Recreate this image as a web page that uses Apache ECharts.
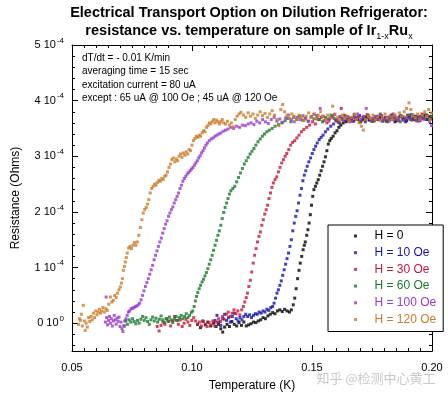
<!DOCTYPE html>
<html>
<head>
<meta charset="utf-8">
<script src="https://cdn.jsdelivr.net/npm/echarts@6/dist/echarts.min.js"></script>
<style>
  html, body { margin: 0; padding: 0; background: #fff; }
  #chart { width: 448px; height: 398px; }
</style>
</head>
<body>
<div id="chart"></div>
<script>
// temperature (K), resistance in units of 1e-4 Ohm
const h0 = [
  [0.1023,-0.02],[0.1035,-0.08],[0.1045,0.04],[0.1056,-0.03],[0.1066,0.02],[0.1078,-0.05],[0.1090,0.00],[0.1100,-0.06],
  [0.1110,-0.02],[0.1120,-0.10],[0.1128,-0.16],[0.1136,-0.07],[0.1146,-0.02],[0.1156,-0.06],[0.1166,0.03],[0.1176,-0.02],
  [0.1186,-0.05],[0.1196,0.01],[0.1206,-0.04],[0.1216,0.02],[0.1226,-0.05],[0.1236,-0.03],[0.1246,-0.01],[0.1256,0.02],
  [0.1266,0.01],[0.1276,0.04],[0.1286,0.06],[0.1296,0.10],[0.1306,0.08],[0.1316,0.13],[0.1326,0.16],[0.1336,0.19],
  [0.1346,0.17],[0.1356,0.22],[0.1366,0.24],[0.1376,0.21],[0.1386,0.25],[0.1396,0.22],[0.1406,0.20],[0.1414,0.24],
  [0.1422,0.33],[0.1428,0.45],[0.1434,0.62],[0.1440,0.80],[0.1446,0.95],[0.1451,1.08],[0.1457,1.20],[0.1463,1.32],
  [0.1468,1.40],[0.1472,1.46],[0.1478,1.58],[0.1483,1.68],[0.1488,1.80],[0.1493,1.95],[0.1498,2.12],[0.1503,2.28],
  [0.1508,2.40],[0.1514,2.46],[0.1520,2.52],[0.1526,2.58],[0.1532,2.66],[0.1538,2.74],[0.1544,2.82],[0.1550,2.90],
  [0.1556,2.99],[0.1562,3.10],[0.1568,3.22],[0.1574,3.28],[0.1580,3.32],[0.1588,3.36],[0.1596,3.42],[0.1604,3.46],
  [0.1612,3.52],[0.1620,3.56],[0.1630,3.60],[0.1642,3.62],[0.1654,3.66],[0.1666,3.64],[0.1678,3.70],[0.1690,3.66],
  [0.1702,3.62],[0.1714,3.68],[0.1726,3.71],[0.1738,3.65],[0.1750,3.63],[0.1762,3.69],[0.1774,3.66],[0.1786,3.72],
  [0.1798,3.67],[0.1810,3.64],[0.1822,3.70],[0.1834,3.66],[0.1846,3.62],[0.1858,3.69],[0.1870,3.73],[0.1882,3.66],
  [0.1894,3.64],[0.1906,3.70],[0.1918,3.67],[0.1930,3.72],[0.1942,3.65],[0.1954,3.69],[0.1966,3.74],[0.1978,3.66],
  [0.1990,3.71],[0.1998,3.68]
];
const h10 = [
  [0.1096,0.05],[0.1104,0.14],[0.1112,0.02],[0.1120,-0.04],[0.1128,0.08],[0.1136,0.16],[0.1144,0.05],[0.1152,0.10],
  [0.1160,0.02],[0.1168,0.12],[0.1176,0.18],[0.1184,0.08],[0.1192,0.04],[0.1200,0.10],[0.1208,0.06],[0.1216,0.12],
  [0.1224,0.16],[0.1232,0.12],[0.1240,0.15],[0.1248,0.10],[0.1256,0.14],[0.1264,0.17],[0.1272,0.16],[0.1280,0.20],
  [0.1288,0.18],[0.1296,0.22],[0.1304,0.20],[0.1312,0.25],[0.1320,0.23],[0.1328,0.28],[0.1336,0.30],[0.1342,0.36],
  [0.1348,0.45],[0.1354,0.54],[0.1360,0.60],[0.1366,0.68],[0.1372,0.76],[0.1378,0.86],[0.1384,0.96],[0.1390,1.06],
  [0.1396,1.16],[0.1402,1.26],[0.1408,1.38],[0.1414,1.50],[0.1420,1.66],[0.1426,1.80],[0.1432,1.92],[0.1438,2.02],
  [0.1444,2.16],[0.1450,2.30],[0.1456,2.42],[0.1462,2.56],[0.1468,2.66],[0.1474,2.74],[0.1480,2.82],[0.1487,2.90],
  [0.1494,2.97],[0.1501,3.05],[0.1508,3.12],[0.1515,3.18],[0.1522,3.24],[0.1530,3.30],[0.1538,3.34],[0.1546,3.38],
  [0.1556,3.44],[0.1566,3.49],[0.1578,3.54],[0.1590,3.58],[0.1602,3.64],[0.1614,3.60],[0.1626,3.68],[0.1638,3.65],
  [0.1650,3.71],[0.1662,3.67],[0.1674,3.63],[0.1686,3.69],[0.1698,3.73],[0.1710,3.66],[0.1722,3.62],[0.1734,3.70],
  [0.1746,3.67],[0.1758,3.64],[0.1770,3.72],[0.1782,3.68],[0.1794,3.63],[0.1806,3.70],[0.1818,3.66],[0.1830,3.74],
  [0.1842,3.69],[0.1854,3.64],[0.1866,3.71],[0.1878,3.67],[0.1890,3.62],[0.1902,3.70],[0.1914,3.75],[0.1926,3.66],
  [0.1938,3.71],[0.1950,3.64],[0.1962,3.69],[0.1974,3.73],[0.1986,3.66],[0.1996,3.71]
];
const h30 = [
  [0.0855,-0.06],[0.0863,-0.14],[0.0871,-0.04],[0.0879,0.02],[0.0887,-0.02],[0.0895,0.08],[0.0903,0.03],[0.0911,-0.05],
  [0.0919,0.04],[0.0927,0.12],[0.0935,0.05],[0.0943,-0.02],[0.0951,0.06],[0.0959,-0.06],[0.0967,0.00],[0.0975,0.07],
  [0.0983,0.02],[0.0991,-0.04],[0.0999,0.05],[0.1007,0.10],[0.1015,0.04],[0.1023,-0.02],[0.1031,0.02],[0.1039,-0.05],
  [0.1047,0.03],[0.1055,-0.02],[0.1063,-0.06],[0.1071,0.01],[0.1079,-0.03],[0.1087,0.04],[0.1095,-0.05],[0.1103,0.02],
  [0.1111,0.08],[0.1119,0.03],[0.1127,0.12],[0.1135,0.07],[0.1143,0.16],[0.1151,0.20],[0.1159,0.12],[0.1167,0.18],
  [0.1175,0.24],[0.1183,0.17],[0.1191,0.22],[0.1199,0.15],[0.1207,0.24],[0.1214,0.30],[0.1220,0.38],[0.1226,0.46],
  [0.1231,0.54],[0.1237,0.66],[0.1243,0.77],[0.1249,0.92],[0.1255,1.08],[0.1261,1.22],[0.1267,1.34],[0.1273,1.46],
  [0.1279,1.56],[0.1285,1.64],[0.1291,1.76],[0.1297,1.86],[0.1303,1.96],[0.1309,2.04],[0.1315,2.12],[0.1321,2.24],
  [0.1327,2.34],[0.1333,2.44],[0.1339,2.52],[0.1346,2.58],[0.1353,2.63],[0.1360,2.72],[0.1367,2.80],[0.1374,2.88],
  [0.1381,2.94],[0.1388,3.00],[0.1395,3.05],[0.1403,3.12],[0.1411,3.20],[0.1419,3.25],[0.1428,3.28],[0.1437,3.33],
  [0.1446,3.38],[0.1456,3.44],[0.1466,3.48],[0.1478,3.52],[0.1490,3.56],[0.1502,3.62],[0.1514,3.58],[0.1526,3.66],
  [0.1538,3.70],[0.1550,3.64],[0.1562,3.60],[0.1574,3.67],[0.1586,3.72],[0.1598,3.65],[0.1610,3.61],[0.1622,3.86],
  [0.1634,3.74],[0.1646,3.66],[0.1658,3.62],[0.1670,3.70],[0.1682,3.66],[0.1694,3.72],[0.1706,3.64],[0.1718,3.69],
  [0.1730,3.75],[0.1742,3.67],[0.1754,3.63],[0.1766,3.71],[0.1778,3.66],[0.1790,3.73],[0.1802,3.68],[0.1814,3.62],
  [0.1826,3.70],[0.1838,3.76],[0.1850,3.67],[0.1862,3.64],[0.1874,3.71],[0.1886,3.68],[0.1898,3.74],[0.1910,3.66],
  [0.1922,3.71],[0.1934,3.64],[0.1946,3.70],[0.1958,3.76],[0.1970,3.68],[0.1982,3.73],[0.1994,3.67]
];
const h60 = [
  [0.0718,-0.05],[0.0724,0.04],[0.0731,-0.02],[0.0738,0.06],[0.0745,0.02],[0.0752,0.08],[0.0759,0.03],[0.0766,-0.01],
  [0.0773,0.05],[0.0780,0.00],[0.0787,0.07],[0.0794,0.12],[0.0801,0.05],[0.0808,0.10],[0.0815,0.03],[0.0822,-0.02],
  [0.0829,0.06],[0.0836,0.11],[0.0843,0.04],[0.0850,0.09],[0.0857,0.02],[0.0864,0.07],[0.0871,0.13],[0.0878,0.06],
  [0.0885,0.01],[0.0892,0.08],[0.0899,0.04],[0.0906,0.11],[0.0913,0.06],[0.0920,0.01],[0.0927,0.07],[0.0934,0.12],
  [0.0941,0.05],[0.0948,0.10],[0.0955,0.14],[0.0962,0.08],[0.0969,0.12],[0.0976,0.17],[0.0983,0.10],[0.0990,0.14],
  [0.0997,0.19],[0.1003,0.22],[0.1009,0.30],[0.1014,0.40],[0.1019,0.48],[0.1024,0.55],[0.1030,0.62],[0.1036,0.68],
  [0.1042,0.74],[0.1048,0.79],[0.1054,0.85],[0.1060,0.91],[0.1066,0.98],[0.1072,1.06],[0.1078,1.14],[0.1084,1.22],
  [0.1090,1.31],[0.1096,1.40],[0.1102,1.49],[0.1108,1.58],[0.1114,1.66],[0.1120,1.76],[0.1126,1.88],[0.1132,1.99],
  [0.1138,2.08],[0.1144,2.16],[0.1150,2.24],[0.1156,2.32],[0.1162,2.38],[0.1170,2.42],[0.1178,2.46],[0.1186,2.54],
  [0.1194,2.62],[0.1202,2.70],[0.1210,2.78],[0.1218,2.86],[0.1226,2.92],[0.1234,2.98],[0.1242,3.04],[0.1250,3.09],
  [0.1258,3.14],[0.1266,3.20],[0.1275,3.26],[0.1284,3.31],[0.1293,3.36],[0.1302,3.40],[0.1312,3.44],[0.1322,3.47],
  [0.1334,3.50],[0.1346,3.54],[0.1360,3.57],[0.1374,3.60],[0.1388,3.64],[0.1400,3.68],[0.1412,3.62],[0.1424,3.70],
  [0.1436,3.66],[0.1448,3.72],[0.1460,3.65],[0.1472,3.69],[0.1484,3.63],[0.1496,3.71],[0.1508,3.67],[0.1520,3.73],
  [0.1532,3.66],[0.1544,3.62],[0.1556,3.70],[0.1568,3.67],[0.1580,3.74],[0.1592,3.68],[0.1604,3.63],[0.1616,3.71],
  [0.1628,3.66],[0.1640,3.72],[0.1652,3.64],[0.1664,3.69],[0.1676,3.75],[0.1688,3.67],[0.1700,3.62],[0.1712,3.70],
  [0.1724,3.66],[0.1736,3.73],[0.1748,3.68],[0.1760,3.64],[0.1772,3.71],[0.1784,3.76],[0.1796,3.67],[0.1808,3.63],
  [0.1820,3.70],[0.1832,3.66],[0.1844,3.73],[0.1856,3.68],[0.1868,3.62],[0.1880,3.71],[0.1892,3.67],[0.1904,3.74],
  [0.1916,3.65],[0.1928,3.70],[0.1940,3.66],[0.1952,3.72],[0.1964,3.68],[0.1976,3.75],[0.1988,3.67],[0.1998,3.72]
];
const h100 = [
  [0.0639,0.02],[0.0642,0.47],[0.0644,0.10],[0.0648,-0.03],[0.0652,0.05],[0.0656,0.12],[0.0660,0.00],[0.0664,0.08],
  [0.0668,-0.05],[0.0672,0.04],[0.0676,0.14],[0.0680,0.06],[0.0684,-0.02],[0.0688,0.09],[0.0692,0.03],[0.0696,0.11],
  [0.0700,-0.06],[0.0704,0.02],[0.0708,-0.10],[0.0712,-0.15],[0.0716,-0.05],[0.0720,0.04],[0.0725,0.08],[0.0730,0.14],
  [0.0735,0.20],[0.0740,0.22],[0.0746,0.26],[0.0752,0.27],[0.0758,0.28],[0.0764,0.30],[0.0770,0.31],[0.0776,0.33],
  [0.0782,0.36],[0.0788,0.42],[0.0794,0.50],[0.0800,0.58],[0.0806,0.66],[0.0812,0.73],[0.0818,0.80],[0.0824,0.88],
  [0.0830,0.96],[0.0836,1.04],[0.0842,1.14],[0.0848,1.22],[0.0854,1.30],[0.0860,1.38],[0.0866,1.46],[0.0872,1.53],
  [0.0878,1.62],[0.0884,1.70],[0.0890,1.78],[0.0896,1.84],[0.0902,1.92],[0.0908,1.98],[0.0914,2.04],[0.0920,2.09],
  [0.0926,2.16],[0.0932,2.22],[0.0938,2.28],[0.0944,2.34],[0.0950,2.42],[0.0956,2.48],[0.0962,2.55],[0.0968,2.60],
  [0.0974,2.64],[0.0980,2.68],[0.0986,2.71],[0.0992,2.74],[0.0998,2.77],[0.1004,2.80],[0.1010,2.84],[0.1016,2.88],
  [0.1022,2.92],[0.1028,2.97],[0.1034,3.01],[0.1040,3.06],[0.1046,3.10],[0.1052,3.15],[0.1058,3.20],[0.1064,3.24],
  [0.1072,3.28],[0.1080,3.31],[0.1088,3.33],[0.1096,3.36],[0.1104,3.38],[0.1112,3.40],[0.1120,3.42],[0.1130,3.45],
  [0.1140,3.47],[0.1150,3.49],[0.1162,3.52],[0.1174,3.50],[0.1186,3.54],[0.1198,3.52],[0.1210,3.56],[0.1222,3.55],
  [0.1234,3.58],[0.1246,3.60],[0.1258,3.57],[0.1270,3.63],[0.1282,3.60],[0.1294,3.66],[0.1306,3.62],[0.1318,3.59],
  [0.1330,3.66],[0.1342,3.70],[0.1354,3.63],[0.1366,3.67],[0.1378,3.61],[0.1390,3.69],[0.1402,3.74],[0.1414,3.66],
  [0.1426,3.62],[0.1438,3.70],[0.1450,3.66],[0.1462,3.73],[0.1474,3.67],[0.1486,3.63],[0.1498,3.71],[0.1510,3.76],
  [0.1522,3.68],[0.1534,3.86],[0.1546,3.72],[0.1558,3.67],[0.1570,3.63],[0.1582,3.70],[0.1594,3.75],[0.1606,3.66],
  [0.1618,3.71],[0.1630,3.65],[0.1642,3.72],[0.1654,3.68],[0.1666,3.63],[0.1678,3.70],[0.1690,3.76],[0.1702,3.67],
  [0.1714,3.72],[0.1726,3.86],[0.1738,3.70],[0.1750,3.64],[0.1762,3.71],[0.1774,3.67],[0.1786,3.74],[0.1798,3.66],
  [0.1810,3.70],[0.1822,3.63],[0.1834,3.69],[0.1846,3.73],[0.1858,3.66],[0.1870,3.71],[0.1882,3.64],[0.1894,3.70],
  [0.1906,3.67],[0.1918,3.74],[0.1930,3.68],[0.1942,3.63],[0.1954,3.71],[0.1966,3.66],[0.1978,3.73],[0.1990,3.62],
  [0.1998,3.55]
];
const h120 = [
  [0.0527,-0.02],[0.0531,0.08],[0.0535,0.05],[0.0539,0.16],[0.0543,-0.05],[0.0547,0.32],[0.0551,0.04],[0.0555,-0.13],
  [0.0559,0.00],[0.0564,-0.07],[0.0569,0.10],[0.0574,0.03],[0.0579,0.12],[0.0584,0.06],[0.0589,0.18],[0.0594,0.10],
  [0.0599,0.22],[0.0604,0.15],[0.0609,0.20],[0.0614,0.25],[0.0619,0.18],[0.0624,0.22],[0.0629,0.28],[0.0635,0.20],
  [0.0641,0.26],[0.0647,0.23],[0.0653,0.34],[0.0660,0.47],[0.0666,0.38],[0.0672,0.41],[0.0678,0.50],[0.0684,0.46],
  [0.0690,0.54],[0.0696,0.60],[0.0701,0.65],[0.0706,0.72],[0.0710,0.80],[0.0714,0.95],[0.0718,1.02],[0.0722,1.10],
  [0.0726,1.18],[0.0730,1.26],[0.0736,1.35],[0.0742,1.38],[0.0748,1.34],[0.0754,1.40],[0.0760,1.45],[0.0766,1.40],
  [0.0772,1.46],[0.0778,1.58],[0.0785,1.72],[0.0791,1.86],[0.0797,1.98],[0.0803,2.04],[0.0809,2.08],[0.0815,2.14],
  [0.0820,2.22],[0.0826,2.34],[0.0832,2.42],[0.0838,2.46],[0.0844,2.50],[0.0850,2.48],[0.0856,2.53],[0.0862,2.57],
  [0.0868,2.55],[0.0874,2.60],[0.0880,2.58],[0.0886,2.64],[0.0892,2.66],[0.0898,2.72],[0.0904,2.80],[0.0910,2.86],
  [0.0916,2.94],[0.0922,2.97],[0.0928,2.90],[0.0934,2.95],[0.0940,2.92],[0.0946,3.00],[0.0952,3.04],[0.0958,2.98],
  [0.0964,3.06],[0.0970,3.02],[0.0976,3.08],[0.0982,3.04],[0.0988,3.12],[0.0994,3.10],[0.1000,3.20],[0.1006,3.28],
  [0.1012,3.32],[0.1018,3.36],[0.1024,3.34],[0.1030,3.38],[0.1036,3.36],[0.1042,3.42],[0.1048,3.46],[0.1054,3.44],
  [0.1060,3.52],[0.1066,3.55],[0.1072,3.60],[0.1078,3.58],[0.1084,3.62],[0.1090,3.66],[0.1096,3.60],[0.1102,3.65],
  [0.1108,3.62],[0.1114,3.58],[0.1120,3.62],[0.1126,3.66],[0.1132,3.60],[0.1140,3.58],[0.1148,3.63],[0.1156,3.56],
  [0.1164,3.60],[0.1172,3.53],[0.1180,3.66],[0.1188,3.72],[0.1196,3.76],[0.1204,3.79],[0.1214,3.74],[0.1224,3.70],
  [0.1234,3.78],[0.1244,3.72],[0.1254,3.76],[0.1264,3.68],[0.1274,3.74],[0.1284,3.80],[0.1294,3.73],[0.1304,3.77],
  [0.1314,3.70],[0.1324,3.76],[0.1334,3.82],[0.1344,3.74],[0.1354,3.66],[0.1362,3.55],[0.1370,3.84],[0.1378,3.93],
  [0.1386,3.80],[0.1396,3.74],[0.1406,3.68],[0.1416,3.76],[0.1426,3.72],[0.1436,3.66],[0.1446,3.74],[0.1456,3.70],
  [0.1466,3.64],[0.1476,3.72],[0.1486,3.78],[0.1496,3.70],[0.1506,3.75],[0.1516,3.68],[0.1526,3.74],[0.1536,3.80],
  [0.1546,3.72],[0.1556,3.66],[0.1566,3.74],[0.1576,3.70],[0.1586,3.90],[0.1596,3.76],[0.1606,3.70],[0.1616,3.66],
  [0.1626,3.74],[0.1636,3.68],[0.1646,3.72],[0.1656,3.64],[0.1666,3.70],[0.1676,3.76],[0.1686,3.66],[0.1696,3.60],
  [0.1706,3.54],[0.1714,3.47],[0.1724,3.66],[0.1734,3.72],[0.1744,3.68],[0.1754,3.74],[0.1764,3.66],[0.1774,3.71],
  [0.1784,3.64],[0.1794,3.70],[0.1804,3.76],[0.1814,3.68],[0.1824,3.72],[0.1834,3.66],[0.1844,3.74],[0.1854,3.70],
  [0.1864,3.78],[0.1874,3.72],[0.1884,3.80],[0.1894,3.86],[0.1904,3.96],[0.1912,3.84],[0.1920,3.74],[0.1930,3.70],
  [0.1940,3.76],[0.1950,3.66],[0.1960,3.74],[0.1970,3.80],[0.1978,3.72],[0.1986,3.84],[0.1992,3.66],[0.1998,3.78]
];

const seriesNames = ['H = 0', 'H = 10 Oe', 'H = 30 Oe', 'H = 60 Oe', 'H = 100 Oe', 'H = 120 Oe'];
const seriesData = [h0, h10, h30, h60, h100, h120];
const colors = ['#000000', '#1414a8', '#c4163a', '#167a2c', '#9a3acd', '#cc7a28'];

const yMajor = [0, 1, 2, 3, 4, 5];
const yMinor = [];
for (let v = -0.4; v < 5; v += 0.2) {
    const r = Math.round(v * 10) / 10;
    if (Math.abs(r - Math.round(r)) > 0.01) yMinor.push(r);
}

const notes = [
    'dT/dt = - 0.01 K/min',
    'averaging time = 15 sec',
    'excitation current = 80 uA',
    'except : 65 uA @ 100 Oe ; 45 uA @ 120 Oe'
];

const FONT = '"Liberation Sans", Arial, sans-serif';

const chart = echarts.init(document.getElementById('chart'), null, { renderer: 'canvas' });

const yLabelFmt = v => (v === 0 ? '{n|0 10}{e|0}' : '{n|' + v + ' 10}{e|-4}');

const tickStyle = { color: '#000', width: 1 };
const frameLine = { show: true, onZero: false, lineStyle: { color: '#000', width: 1 } };

const option = {
    animation: false,
    backgroundColor: '#fff',
    grid: { left: 72, right: 16, top: 45, bottom: 47, containLabel: false },
    legend: {
        orient: 'vertical',
        left: 328,
        top: 225,
        padding: [4, 7, 5, 26],
        itemWidth: 3,
        itemHeight: 3,
        itemGap: 2.7,
        icon: 'rect',
        selectedMode: false,
        borderColor: '#000',
        borderWidth: 1,
        backgroundColor: '#fff',
        textStyle: { fontSize: 12, fontFamily: FONT, lineHeight: 14, padding: [0, 0, 0, 12.5] },
        data: seriesNames.map((n, i) => ({ name: n, textStyle: { color: colors[i] } }))
    },
    xAxis: [
        {
            type: 'value', position: 'bottom', min: 0.05, max: 0.2, interval: 0.05,
            name: 'Temperature (K)', nameLocation: 'middle', nameGap: 29,
            nameTextStyle: { fontSize: 12, fontFamily: FONT, color: '#000' },
            axisLine: frameLine,
            axisTick: { inside: true, length: 6, lineStyle: tickStyle },
            minorTick: { show: true, splitNumber: 10, length: 3, lineStyle: tickStyle },
            axisLabel: { margin: 11, fontSize: 11, fontFamily: FONT, color: '#000', formatter: v => v.toFixed(2) },
            splitLine: { show: false }
        },
        {
            type: 'value', position: 'top', min: 0.05, max: 0.2, interval: 0.05,
            axisLine: frameLine,
            axisTick: { inside: true, length: 6, lineStyle: tickStyle },
            minorTick: { show: true, splitNumber: 10, length: 3, lineStyle: tickStyle },
            axisLabel: { show: false },
            splitLine: { show: false }
        }
    ],
    yAxis: [
        {
            type: 'value', position: 'left', min: -0.5, max: 5,
            name: 'Resistance (Ohms)', nameLocation: 'middle', nameGap: 50,
            nameTextStyle: { fontSize: 12, fontFamily: FONT, color: '#000' },
            axisLine: frameLine,
            axisTick: { show: true, inside: true, length: 6, customValues: yMajor, lineStyle: tickStyle },
            axisLabel: {
                margin: 8, customValues: yMajor, formatter: yLabelFmt, color: '#000',
                rich: {
                    n: { fontSize: 11, fontFamily: FONT, color: '#000' },
                    e: { fontSize: 8, fontFamily: FONT, color: '#000', padding: [0, 0, 9, 1] }
                }
            },
            splitLine: { show: false }
        },
        {
            type: 'value', position: 'left', min: -0.5, max: 5,
            axisLine: { show: false, onZero: false },
            axisTick: { show: true, inside: true, length: 3, customValues: yMinor, lineStyle: tickStyle },
            axisLabel: { show: false },
            splitLine: { show: false }
        },
        {
            type: 'value', position: 'right', min: -0.5, max: 5,
            axisLine: frameLine,
            axisTick: { show: true, inside: true, length: 6, customValues: yMajor, lineStyle: tickStyle },
            axisLabel: { show: false },
            splitLine: { show: false }
        },
        {
            type: 'value', position: 'right', min: -0.5, max: 5,
            axisLine: { show: false, onZero: false },
            axisTick: { show: true, inside: true, length: 3, customValues: yMinor, lineStyle: tickStyle },
            axisLabel: { show: false },
            splitLine: { show: false }
        }
    ],
    graphic: [
        {
            type: 'text', x: 249, y: 4, silent: true,
            style: {
                text: '{b|Electrical Transport Option on Dilution Refrigerator:}\n' +
                      '{b|resistance vs. temperature on sample of Ir}{s|1-x}{b|Ru}{s|x}',
                align: 'center',
                rich: {
                    b: { fontSize: 14.5, fontWeight: 'bold', fontFamily: FONT, fill: '#000', lineHeight: 18 },
                    s: { fontSize: 9, fontFamily: FONT, fill: '#000', lineHeight: 18, padding: [12, 0, 0, 0] }
                }
            }
        },
        {
            type: 'text', x: 82, y: 51.5, silent: true,
            style: { text: notes.join('\n'), fontSize: 10, fontFamily: FONT, fill: '#000', lineHeight: 13.3 }
        },
        {
            type: 'text', x: 376, y: 378, silent: true,
            style: {
                text: '知乎 @检测中心黄工', align: 'center', verticalAlign: 'middle',
                fontSize: 13, fontFamily: '"Noto Sans CJK SC", sans-serif', fill: '#c8c8c8'
            }
        }
    ],
    series: seriesData.map((d, i) => ({
        name: seriesNames[i],
        type: 'scatter',
        xAxisIndex: 0,
        yAxisIndex: 0,
        data: d,
        symbol: 'rect',
        symbolSize: 3,
        itemStyle: { color: colors[i] },
        silent: true
    }))
};

chart.setOption(option);
</script>
</body>
</html>
